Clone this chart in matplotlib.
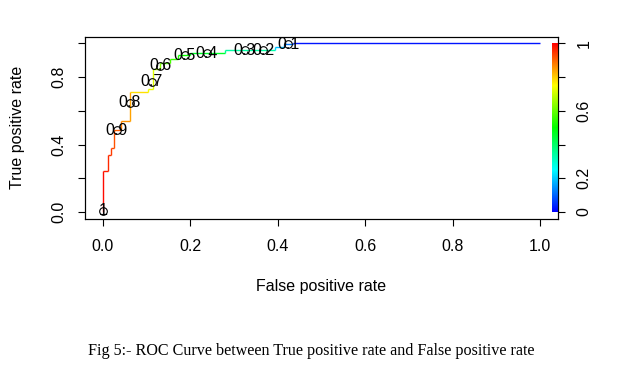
import numpy as np
import matplotlib
matplotlib.use("Agg")
import matplotlib.pyplot as plt
from matplotlib.colors import hsv_to_rgb, ListedColormap

plt.rcParams['font.family'] = ['Liberation Sans', 'DejaVu Sans']

# ROC step curve vertices, with the cutoff at each vertex
fpr = [0.000, 0.000, 0.011, 0.011, 0.019, 0.019, 0.026, 0.026, 0.041, 0.041,
       0.062, 0.062, 0.104, 0.104, 0.114, 0.114, 0.131, 0.131, 0.154, 0.154,
       0.172, 0.172, 0.200, 0.200, 0.280, 0.280, 0.394, 0.394, 0.415, 0.415,
       0.435, 0.435, 1.000]
tpr = [0.000, 0.245, 0.245, 0.338, 0.338, 0.380, 0.380, 0.486, 0.486, 0.541,
       0.541, 0.709, 0.709, 0.727, 0.727, 0.846, 0.846, 0.882, 0.882, 0.905,
       0.905, 0.930, 0.930, 0.941, 0.941, 0.960, 0.960, 0.976, 0.976, 0.994,
       0.994, 1.000, 1.000]
cutoff = [0.99, 0.97, 0.96, 0.95, 0.94, 0.93, 0.92, 0.91, 0.88, 0.86,
          0.84, 0.78, 0.74, 0.73, 0.72, 0.66, 0.63, 0.58, 0.57, 0.55,
          0.53, 0.51, 0.48, 0.46, 0.36, 0.34, 0.22, 0.18, 0.14, 0.12,
          0.08, 0.02, 0.01]

# printed cutoffs and where they sit on the curve
mark_labels = ['1', '0.9', '0.8', '0.7', '0.6', '0.5', '0.4', '0.3', '0.2', '0.1']
mark_x = [0.000, 0.032, 0.062, 0.112, 0.131, 0.188, 0.238, 0.325, 0.367, 0.424]
mark_y = [0.006, 0.486, 0.648, 0.772, 0.867, 0.930, 0.941, 0.960, 0.960, 0.994]

xticks = [0.0, 0.2, 0.4, 0.6, 0.8, 1.0]
yticks = [0.0, 0.2, 0.4, 0.6, 0.8, 1.0]
ytick_labels = ['0.0', '', '0.4', '', '0.8', '']
cbar_ticks = [0.0, 0.2, 0.4, 0.6, 0.8, 1.0]
cbar_labels = ['0', '0.2', '', '0.6', '', '1']


def cut_colour(c):
    # R: rev(rainbow(256, start=0, end=4/6))
    return hsv_to_rgb([(1 - c) * 4 / 6, 1, 1])


fig = plt.figure(figsize=(6.22, 3.75), dpi=100)
ax = fig.add_axes([85.2 / 622, 1 - 218.7 / 375, 472.5 / 622, 182 / 375])

for i in range(len(fpr) - 1):
    ax.plot(fpr[i:i + 2], tpr[i:i + 2], color=cut_colour(cutoff[i]), lw=1,
            solid_capstyle='butt')

ax.plot(mark_x, mark_y, 'o', ms=5.5, mfc='none', mec='black', mew=0.8)
for lab, x, y in zip(mark_labels, mark_x, mark_y):
    ax.text(x, y, lab, ha='center', va='center', fontsize=11.5)

# colour key along the right edge
cmap = ListedColormap([cut_colour(c) for c in np.linspace(0, 1, 256)])
ax.imshow(np.linspace(0, 1, 256).reshape(-1, 1), cmap=cmap, origin='lower',
          extent=[1.028, 1.04, 0, 1], aspect='auto', zorder=3)

ax.set_xlim(-0.04, 1.04)
ax.set_ylim(-0.04, 1.04)
ax.set_xticks(xticks)
ax.set_xticklabels([f'{t:.1f}' for t in xticks])
ax.set_yticks(yticks)
ax.set_yticklabels(ytick_labels, rotation=90, va='center')
ax.tick_params(direction='out', length=5, width=0.8, labelsize=11.5)
ax.tick_params(axis='x', pad=9.5)
ax.tick_params(axis='y', pad=8.5)
for s in ax.spines.values():
    s.set_linewidth(0.8)

ax2 = ax.twinx()
ax2.set_ylim(ax.get_ylim())
ax2.set_yticks(cbar_ticks)
ax2.set_yticklabels(cbar_labels, rotation=90, va='center')
ax2.tick_params(direction='out', length=5, width=0.8, labelsize=11.5, pad=8.5)

ax.set_xlabel('False positive rate', fontsize=11.5)
ax.set_ylabel('True positive rate', fontsize=11.5)
ax.xaxis.set_label_coords(0.5, (218.7 - 279) / 182)
ax.yaxis.set_label_coords((25 - 85.2) / 472.5, 0.5)

fig.text(0.5, 1 - 351 / 375, 'Fig 5:- ROC Curve between True positive rate and False positive rate',
         ha='center', va='center', fontsize=11.6, family='Liberation Serif')

fig.savefig('out.png', dpi=100)
